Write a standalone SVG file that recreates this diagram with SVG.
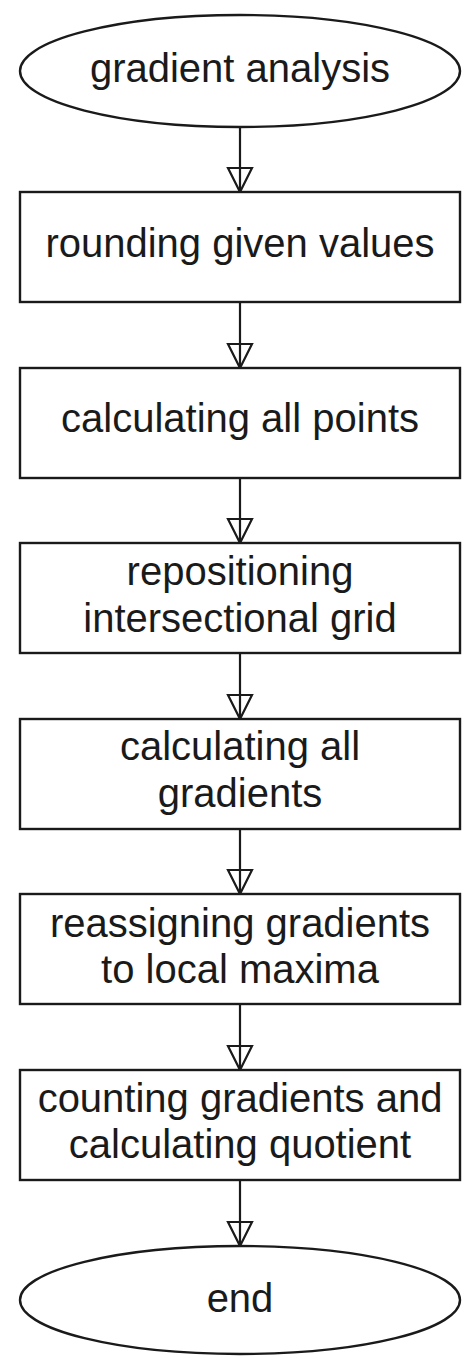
<svg xmlns="http://www.w3.org/2000/svg" width="474" height="1370" viewBox="0 0 474 1370">
<style>
.shape{fill:#fff;stroke:#1a1a1a;stroke-width:2.4}
.lbl{font-family:"Liberation Sans",Arial,sans-serif;font-size:40px;fill:#1a1a1a;text-anchor:middle}
.conn{stroke:#1a1a1a;stroke-width:2.2;fill:none}
</style>
<defs>
<marker id="arr" markerUnits="userSpaceOnUse" markerWidth="30" markerHeight="30" viewBox="-3 -15 30 30" refX="24" refY="0" orient="auto">
<path d="M0,-12 L24,0 L0,12 Z" fill="none" stroke="#1a1a1a" stroke-width="2.2" stroke-linejoin="miter"/>
</marker>
</defs>
<rect width="474" height="1370" fill="#fff"/>
<g id="connectors">
<line class="conn" x1="240" y1="127" x2="240" y2="192" marker-end="url(#arr)"/>
<line class="conn" x1="240" y1="302" x2="240" y2="368" marker-end="url(#arr)"/>
<line class="conn" x1="240" y1="478" x2="240" y2="543" marker-end="url(#arr)"/>
<line class="conn" x1="240" y1="653" x2="240" y2="719" marker-end="url(#arr)"/>
<line class="conn" x1="240" y1="829" x2="240" y2="894" marker-end="url(#arr)"/>
<line class="conn" x1="240" y1="1004" x2="240" y2="1070" marker-end="url(#arr)"/>
<line class="conn" x1="240" y1="1180" x2="240" y2="1246" marker-end="url(#arr)"/>
</g>
<g id="start">
<ellipse class="shape" cx="240" cy="71" rx="220" ry="56"/>
<text class="lbl" x="240" y="82">gradient analysis</text>
</g>
<g id="rounding">
<rect class="shape" x="20" y="192" width="440" height="110"/>
<text class="lbl" x="240" y="257">rounding given values</text>
</g>
<g id="points">
<rect class="shape" x="20" y="368" width="440" height="110"/>
<text class="lbl" x="240" y="432">calculating all points</text>
</g>
<g id="grid">
<rect class="shape" x="20" y="543" width="440" height="110"/>
<text class="lbl" x="240" y="585">repositioning</text>
<text class="lbl" x="240" y="632">intersectional grid</text>
</g>
<g id="gradients">
<rect class="shape" x="20" y="719" width="440" height="110"/>
<text class="lbl" x="240" y="760">calculating all</text>
<text class="lbl" x="240" y="807">gradients</text>
</g>
<g id="reassign">
<rect class="shape" x="20" y="894" width="440" height="110"/>
<text class="lbl" x="240" y="937">reassigning gradients</text>
<text class="lbl" x="240" y="983">to local maxima</text>
</g>
<g id="counting">
<rect class="shape" x="20" y="1070" width="440" height="110"/>
<text class="lbl" x="240" y="1112">counting gradients and</text>
<text class="lbl" x="240" y="1158">calculating quotient</text>
</g>
<g id="end">
<ellipse class="shape" cx="240" cy="1300" rx="220" ry="54"/>
<text class="lbl" x="240" y="1312">end</text>
</g>
</svg>
